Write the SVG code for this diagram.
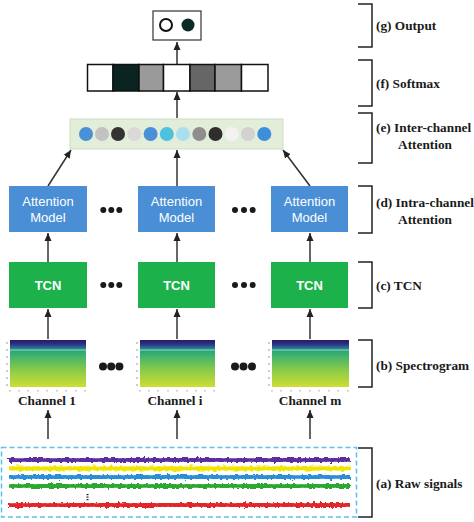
<svg xmlns="http://www.w3.org/2000/svg" width="474" height="522" viewBox="0 0 474 522">
<style>
.lbl{font-family:"Liberation Serif","Times New Roman",serif;font-weight:bold;font-size:13.3px;fill:#1a1a1a}
.box-t{font-family:"Liberation Sans",Arial,sans-serif;font-size:13px;fill:#fff;text-anchor:middle}
.arr{stroke:#333;stroke-width:1.5;fill:none;marker-end:url(#ah)}
.br{stroke:#222;stroke-width:1.5;fill:none}
.att{fill:#4a8fd5}
.tcn{fill:#1db14b}
.dot{fill:#1a1a1a}
.cell{stroke:#111;stroke-width:1.5}
.tick{stroke:#9a9a9a;stroke-width:1}
.sig{stroke-width:4;fill:none}
.sigb{stroke-width:3.4;fill:none}
</style>
<defs>
<marker id="ah" markerUnits="userSpaceOnUse" markerWidth="8" markerHeight="8" refX="8" refY="4" orient="auto">
<path d="M0,0.5 L8,4 L0,7.5 z" fill="#222"/>
</marker>
<linearGradient id="spec" x1="0" y1="0" x2="0" y2="1">
<stop offset="0" stop-color="#2d1863"/>
<stop offset="0.08" stop-color="#2a2f80"/>
<stop offset="0.14" stop-color="#2a5a92"/>
<stop offset="0.19" stop-color="#278a8e"/>
<stop offset="0.215" stop-color="#8fdcb0"/>
<stop offset="0.235" stop-color="#2aa37a"/>
<stop offset="0.35" stop-color="#45b46a"/>
<stop offset="0.65" stop-color="#8ccc48"/>
<stop offset="1" stop-color="#cfdd33"/>
</linearGradient>
<filter id="noise" filterUnits="userSpaceOnUse" x="0" y="445" width="360" height="75">
<feTurbulence type="fractalNoise" baseFrequency="0.3 0.3" numOctaves="2" seed="3" result="t"/>
<feDisplacementMap in="SourceGraphic" in2="t" scale="6" xChannelSelector="R" yChannelSelector="G"/>
</filter>
</defs>

<!-- right-side brackets and labels -->
<g id="brackets">
<path class="br" d="M358,4 H372 V47 H358"/>
<path class="br" d="M358,60 H372 V106 H358"/>
<path class="br" d="M358,113 H372 V163 H358"/>
<path class="br" d="M358,186 H372 V233 H358"/>
<path class="br" d="M358,262 H372 V308 H358"/>
<path class="br" d="M358,340 H372 V387 H358"/>
<path class="br" d="M358,448 H372 V517 H358"/>
<text class="lbl" x="376" y="30">(g) Output</text>
<text class="lbl" x="376" y="88">(f) Softmax</text>
<text class="lbl" x="376" y="132">(e) Inter-channel</text>
<text class="lbl" x="425" y="149" text-anchor="middle">Attention</text>
<text class="lbl" x="376" y="207">(d) Intra-channel</text>
<text class="lbl" x="425" y="224" text-anchor="middle">Attention</text>
<text class="lbl" x="376" y="290">(c) TCN</text>
<text class="lbl" x="376" y="370">(b) Spectrogram</text>
<text class="lbl" x="376" y="488">(a) Raw signals</text>
</g>

<!-- connectors -->
<g id="connectors">
<line class="arr" x1="48" y1="439" x2="48" y2="410"/>
<line class="arr" x1="177" y1="439" x2="177" y2="410"/>
<line class="arr" x1="310" y1="439" x2="310" y2="410"/>
<line class="arr" x1="48" y1="339" x2="48" y2="309"/>
<line class="arr" x1="177" y1="339" x2="177" y2="309"/>
<line class="arr" x1="310" y1="339" x2="310" y2="309"/>
<line class="arr" x1="48" y1="262" x2="48" y2="233"/>
<line class="arr" x1="177" y1="262" x2="177" y2="233"/>
<line class="arr" x1="310" y1="262" x2="310" y2="233"/>
<line class="arr" x1="48" y1="186" x2="71" y2="150"/>
<line class="arr" x1="177" y1="186" x2="177" y2="150"/>
<line class="arr" x1="310" y1="186" x2="283" y2="150"/>
<line class="arr" x1="177" y1="118" x2="177" y2="92"/>
<line class="arr" x1="177" y1="64" x2="177" y2="42"/>
</g>

<!-- output -->
<g id="output">
<rect x="153" y="11" width="48" height="29" fill="#fff" stroke="#333" stroke-width="1.2"/>
<circle cx="166" cy="25" r="6" fill="#fff" stroke="#111" stroke-width="2"/>
<circle cx="188" cy="25" r="6.5" fill="#0e2a28"/>
</g>

<!-- softmax -->
<g id="softmax">
<rect class="cell" x="87.5" y="64.5" width="25.5" height="26.5" fill="#fff"/>
<rect class="cell" x="113" y="64.5" width="26" height="26.5" fill="#0b2422"/>
<rect class="cell" x="139" y="64.5" width="24.5" height="26.5" fill="#9a9a9a"/>
<rect class="cell" x="163.5" y="64.5" width="26.5" height="26.5" fill="#fff"/>
<rect class="cell" x="190" y="64.5" width="25" height="26.5" fill="#666"/>
<rect class="cell" x="215" y="64.5" width="26.5" height="26.5" fill="#9b9b9b"/>
<rect class="cell" x="241.5" y="64.5" width="26.5" height="26.5" fill="#fff"/>
</g>

<!-- inter-channel attention band -->
<g id="inter-attention">
<rect x="70" y="119" width="213" height="30" fill="#e3eeda" stroke="#cddcc4" stroke-width="1"/>
<circle cx="86" cy="134" r="7" fill="#4a90d6"/>
<circle cx="102" cy="134" r="7" fill="#c2c2c2"/>
<circle cx="118" cy="134" r="7" fill="#333"/>
<circle cx="134.3" cy="134" r="7" fill="#d9d9d9"/>
<circle cx="150.6" cy="134" r="7" fill="#4a90d6"/>
<circle cx="166.8" cy="134" r="7" fill="#4cc2df"/>
<circle cx="183" cy="134" r="7" fill="#aadff0"/>
<circle cx="199.3" cy="134" r="7" fill="#8e8e8e"/>
<circle cx="215.5" cy="134" r="7" fill="#2e2e2e"/>
<circle cx="231.7" cy="134" r="7" fill="#f2f2f2"/>
<circle cx="248" cy="134" r="7" fill="#d2d2d2"/>
<circle cx="264.3" cy="134" r="7" fill="#3d8fd9"/>
</g>

<!-- attention models -->
<g id="attention-1">
<rect class="att" x="9" y="186" width="78" height="46"/>
<text class="box-t" x="48" y="206">Attention</text>
<text class="box-t" x="48" y="222">Model</text>
</g>
<g id="attention-i">
<rect class="att" x="138" y="186" width="77" height="46"/>
<text class="box-t" x="176.5" y="206">Attention</text>
<text class="box-t" x="176.5" y="222">Model</text>
</g>
<g id="attention-m">
<rect class="att" x="271" y="186" width="77" height="46"/>
<text class="box-t" x="309.5" y="206">Attention</text>
<text class="box-t" x="309.5" y="222">Model</text>
</g>
<g id="dots-att">
<circle class="dot" cx="103.3" cy="210" r="3"/><circle class="dot" cx="111.3" cy="210" r="3"/><circle class="dot" cx="119.3" cy="210" r="3"/>
<circle class="dot" cx="235" cy="210" r="3"/><circle class="dot" cx="244" cy="210" r="3"/><circle class="dot" cx="252.7" cy="210" r="3"/>
</g>

<!-- TCN -->
<g id="tcn-1">
<rect class="tcn" x="9" y="262" width="78" height="46"/>
<text class="box-t" x="48" y="290" font-weight="bold">TCN</text>
</g>
<g id="tcn-i">
<rect class="tcn" x="138" y="262" width="77" height="46"/>
<text class="box-t" x="176.5" y="290" font-weight="bold">TCN</text>
</g>
<g id="tcn-m">
<rect class="tcn" x="271" y="262" width="77" height="46"/>
<text class="box-t" x="309.5" y="290" font-weight="bold">TCN</text>
</g>
<g id="dots-tcn">
<circle class="dot" cx="103.3" cy="285" r="3"/><circle class="dot" cx="111.3" cy="285" r="3"/><circle class="dot" cx="119.3" cy="285" r="3"/>
<circle class="dot" cx="235" cy="285" r="3"/><circle class="dot" cx="244" cy="285" r="3"/><circle class="dot" cx="252.7" cy="285" r="3"/>
</g>

<!-- spectrograms -->
<g id="spec-1">
<rect x="10" y="340" width="76" height="47" fill="url(#spec)"/>
<path class="tick" d="M6,343h2M6,350h2M6,357h2M6,364h2M6,371h2M6,378h2M6,385h2M10,390v1.5M19,390v1.5M28,390v1.5M38,390v1.5M47,390v1.5M57,390v1.5M66,390v1.5M76,390v1.5M85,390v1.5"/>
</g>
<g id="spec-i">
<rect x="140" y="340" width="75" height="47" fill="url(#spec)"/>
<path class="tick" d="M136,343h2M136,350h2M136,357h2M136,364h2M136,371h2M136,378h2M136,385h2M140,390v1.5M149,390v1.5M158,390v1.5M168,390v1.5M177,390v1.5M187,390v1.5M196,390v1.5M205,390v1.5M214,390v1.5"/>
</g>
<g id="spec-m">
<rect x="272" y="340" width="77" height="47" fill="url(#spec)"/>
<path class="tick" d="M268,343h2M268,350h2M268,357h2M268,364h2M268,371h2M268,378h2M268,385h2M272,390v1.5M281,390v1.5M291,390v1.5M300,390v1.5M310,390v1.5M319,390v1.5M329,390v1.5M338,390v1.5M348,390v1.5"/>
</g>
<g id="dots-spec">
<circle class="dot" cx="103" cy="366.5" r="4"/><circle class="dot" cx="111.2" cy="366.5" r="4"/><circle class="dot" cx="119.4" cy="366.5" r="4"/>
<circle class="dot" cx="235" cy="366.5" r="4"/><circle class="dot" cx="243.5" cy="366.5" r="4"/><circle class="dot" cx="252" cy="366.5" r="4"/>
</g>

<!-- channel labels -->
<g id="channel-labels">
<text class="lbl" x="47" y="405" text-anchor="middle">Channel 1</text>
<text class="lbl" x="175" y="405" text-anchor="middle">Channel i</text>
<text class="lbl" x="310" y="405" text-anchor="middle">Channel m</text>
</g>

<!-- raw signals -->
<g id="raw-signals">
<rect x="1.5" y="447.5" width="355" height="69.5" fill="#fff" stroke="#5cc2ea" stroke-width="1.5" stroke-dasharray="5 3"/>
<g>
<line class="sigb" x1="9" y1="460" x2="350" y2="460" stroke="#5a2e9e"/>
<line class="sigb" x1="9" y1="468.5" x2="350" y2="468.5" stroke="#f0e500"/>
<line class="sigb" x1="9" y1="477" x2="350" y2="477" stroke="#2b8fd8"/>
<line class="sigb" x1="9" y1="486" x2="350" y2="486" stroke="#2ea631"/>
<line class="sigb" x1="9" y1="505" x2="350" y2="505" stroke="#e1272b"/>
</g>
<g filter="url(#noise)">
<line class="sig" x1="9" y1="460" x2="350" y2="460" stroke="#5a2e9e"/>
<line class="sig" x1="9" y1="468.5" x2="350" y2="468.5" stroke="#f0e500"/>
<line class="sig" x1="9" y1="477" x2="350" y2="477" stroke="#2b8fd8"/>
<line class="sig" x1="9" y1="486" x2="350" y2="486" stroke="#2ea631"/>
<line class="sig" x1="9" y1="505" x2="350" y2="505" stroke="#e1272b"/>
</g>
<rect x="86.5" y="494" width="2" height="1.2" fill="#222"/>
<rect x="86.5" y="496.5" width="2" height="1.2" fill="#222"/>
<rect x="86.5" y="499" width="2" height="1.2" fill="#222"/>
</g>
</svg>
